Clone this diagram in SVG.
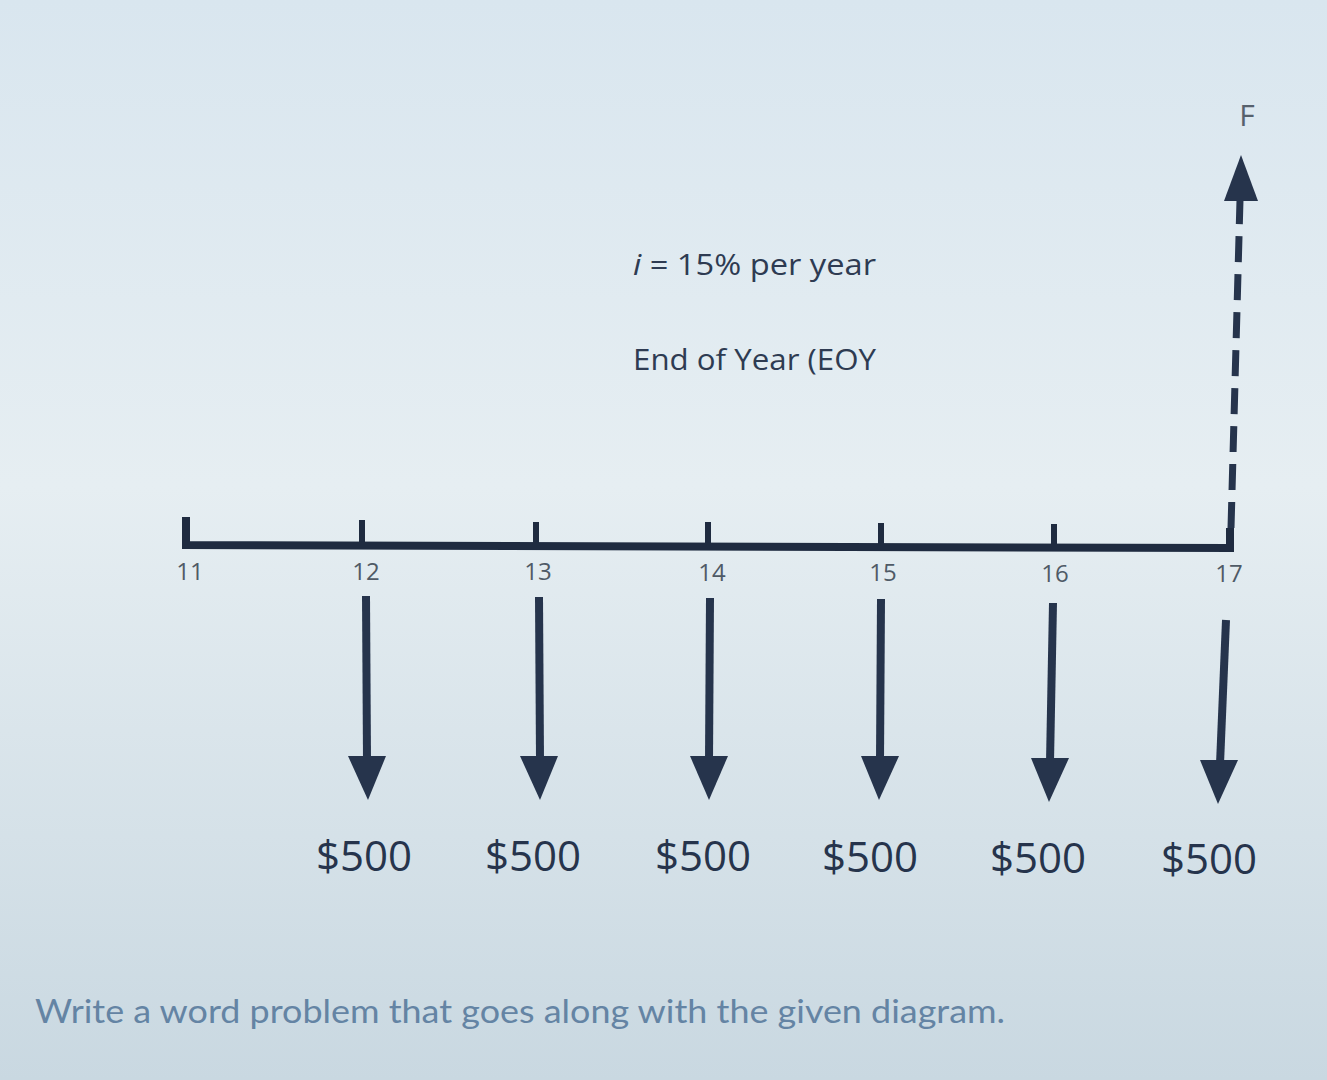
<svg xmlns="http://www.w3.org/2000/svg" width="1327" height="1080" viewBox="0 0 1327 1080">
<defs>
<linearGradient id="bg" x1="0" y1="0" x2="0" y2="1">
<stop offset="0" stop-color="#d9e6ef"/>
<stop offset="0.45" stop-color="#e6eef2"/>
<stop offset="1" stop-color="#c9d8e1"/>
</linearGradient>
<style>
.axis{stroke:#1f2b40;stroke-width:8;fill:none;stroke-linecap:square}
.tick{stroke:#1f2b40;stroke-width:6;fill:none}
.shaft{stroke:#26344c;stroke-width:8;fill:none}
.head{fill:#26344c}
.lbl{font-family:"Open Sans","Liberation Sans",sans-serif;font-size:24px;fill:#4f5a66;text-anchor:middle}
.amt{font-family:"Open Sans","Liberation Sans",sans-serif;font-size:42px;fill:#26344c;text-anchor:middle}
.note{font-family:"Open Sans","Liberation Sans",sans-serif;font-size:30px;fill:#2e3b52}
.q{font-family:Lato,"Liberation Sans",sans-serif;font-size:32px;fill:#6484a4}
</style>
</defs>
<rect width="1327" height="1080" fill="url(#bg)"/>
<g id="connectors">
<path class="axis" d="M186,521 L186,545 L1230,548 L1230,532"/>
<line class="tick" x1="362" y1="520" x2="362" y2="546"/>
<line class="tick" x1="536" y1="522" x2="536" y2="546"/>
<line class="tick" x1="708" y1="522" x2="708" y2="547"/>
<line class="tick" x1="881" y1="523" x2="881" y2="547"/>
<line class="tick" x1="1054" y1="524" x2="1054" y2="548"/>
<line x1="1231" y1="528" x2="1240" y2="200" stroke="#26344c" stroke-width="7" stroke-dasharray="26 12"/>
<polygon class="head" points="1241,155 1224,201 1258,201"/>
</g>
<g id="n11"><text class="lbl" x="190" y="580">11</text></g>
<g id="n12"><text class="lbl" x="366" y="580">12</text>
<line class="shaft" x1="366" y1="596" x2="367" y2="760"/><polygon class="head" points="348,756 386,756 368,800"/></g>
<g id="n13"><text class="lbl" x="538" y="580">13</text>
<line class="shaft" x1="539" y1="597" x2="540" y2="760"/><polygon class="head" points="520,756 558,756 540,800"/></g>
<g id="n14"><text class="lbl" x="712" y="581">14</text>
<line class="shaft" x1="710" y1="598" x2="709" y2="760"/><polygon class="head" points="690,756 728,756 709,800"/></g>
<g id="n15"><text class="lbl" x="883" y="581">15</text>
<line class="shaft" x1="881" y1="599" x2="880" y2="760"/><polygon class="head" points="861,756 899,756 879,800"/></g>
<g id="n16"><text class="lbl" x="1055" y="582">16</text>
<line class="shaft" x1="1053" y1="603" x2="1050" y2="762"/><polygon class="head" points="1031,758 1069,758 1049,802"/></g>
<g id="n17"><text class="lbl" x="1229" y="582">17</text>
<line class="shaft" x1="1226" y1="620" x2="1220" y2="764"/><polygon class="head" points="1200,760 1238,760 1218,804"/></g>
<g id="amounts">
<text class="amt" x="364" y="871">$500</text>
<text class="amt" x="533" y="871">$500</text>
<text class="amt" x="703" y="871">$500</text>
<text class="amt" x="870" y="872">$500</text>
<text class="amt" x="1038" y="873">$500</text>
<text class="amt" x="1209" y="874">$500</text>
</g>
<g id="F"><text x="1247" y="126" font-family="Open Sans, Liberation Sans, sans-serif" font-size="30" fill="#56616d" text-anchor="middle">F</text></g>
<g id="notes">
<text class="note" x="633" y="275" textLength="243" lengthAdjust="spacingAndGlyphs"><tspan font-style="italic">i</tspan> = 15% per year</text>
<text class="note" x="633" y="370" textLength="243" lengthAdjust="spacingAndGlyphs">End of Year (EOY</text>
</g>
<g id="question"><text class="q" x="35" y="1023" textLength="970" lengthAdjust="spacingAndGlyphs">Write a word problem that goes along with the given diagram.</text></g>
</svg>
